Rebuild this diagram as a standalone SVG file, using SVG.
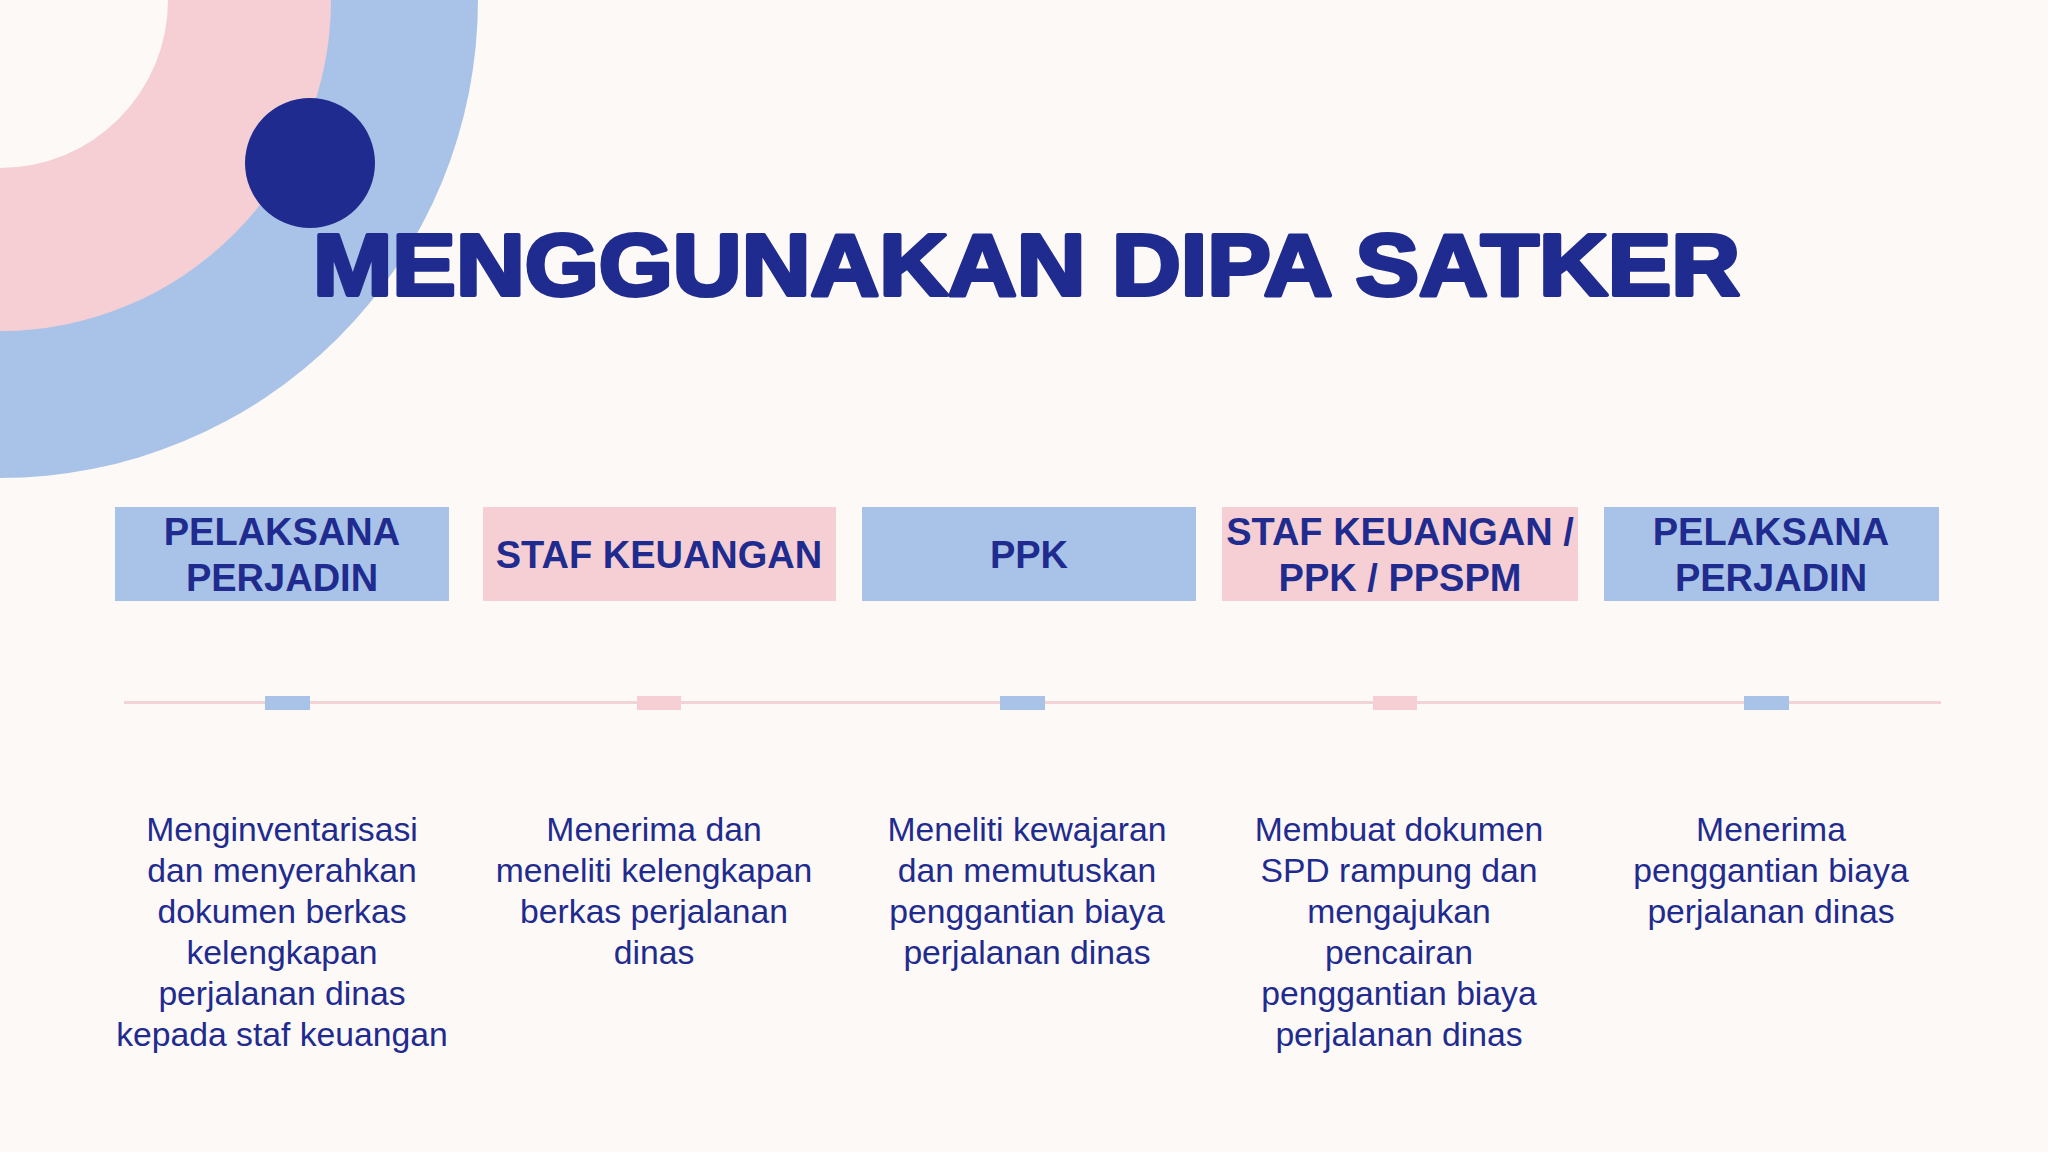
<svg xmlns="http://www.w3.org/2000/svg" width="2048" height="1152" viewBox="0 0 2048 1152">
<style>
.hdr{font-family:"Liberation Sans",Arial,sans-serif;font-weight:bold;font-size:38px;fill:#1F2B8E;text-anchor:middle}
.body{font-family:"Liberation Sans",Arial,sans-serif;font-size:33.7px;fill:#1F2B8E;text-anchor:middle}
.blue{fill:#A9C3E8}
.pink{fill:#F5CFD3}
</style>
<rect width="2048" height="1152" fill="#FDF9F6"/>
<g id="decor">
<circle cx="0" cy="0" r="478" class="blue"/>
<circle cx="0" cy="0" r="331" class="pink"/>
<circle cx="0" cy="0" r="168" fill="#FDF9F6"/>
<circle cx="310" cy="163" r="65" fill="#1F2B8E"/>
</g>
<g id="title">
<text x="313" y="295" textLength="1427" lengthAdjust="spacingAndGlyphs" font-family="Liberation Sans, Arial, sans-serif" font-weight="bold" font-size="88" fill="#1F2B8E" stroke="#1F2B8E" stroke-width="4" stroke-linejoin="round">MENGGUNAKAN DIPA SATKER</text>
</g>
<g id="connectors">
<rect x="124" y="701" width="1817" height="3" fill="#F2D3D6"/>
</g>
<g id="step1">
<rect x="115" y="507" width="334" height="94" class="blue"/>
<text class="hdr" x="282" y="545">PELAKSANA</text>
<text class="hdr" x="282" y="591">PERJADIN</text>
<rect x="265" y="696" width="45" height="14" class="blue"/>
<text class="body" x="282" y="841">Menginventarisasi</text>
<text class="body" x="282" y="882">dan menyerahkan</text>
<text class="body" x="282" y="923">dokumen berkas</text>
<text class="body" x="282" y="964">kelengkapan</text>
<text class="body" x="282" y="1005">perjalanan dinas</text>
<text class="body" x="282" y="1046">kepada staf keuangan</text>
</g>
<g id="step2">
<rect x="483" y="507" width="353" height="94" class="pink"/>
<text class="hdr" x="659" y="568">STAF KEUANGAN</text>
<rect x="637" y="696" width="44" height="14" class="pink"/>
<text class="body" x="654" y="841">Menerima dan</text>
<text class="body" x="654" y="882">meneliti kelengkapan</text>
<text class="body" x="654" y="923">berkas perjalanan</text>
<text class="body" x="654" y="964">dinas</text>
</g>
<g id="step3">
<rect x="862" y="507" width="334" height="94" class="blue"/>
<text class="hdr" x="1029" y="568">PPK</text>
<rect x="1000" y="696" width="45" height="14" class="blue"/>
<text class="body" x="1027" y="841">Meneliti kewajaran</text>
<text class="body" x="1027" y="882">dan memutuskan</text>
<text class="body" x="1027" y="923">penggantian biaya</text>
<text class="body" x="1027" y="964">perjalanan dinas</text>
</g>
<g id="step4">
<rect x="1222" y="507" width="356" height="94" class="pink"/>
<text class="hdr" x="1400" y="545">STAF KEUANGAN /</text>
<text class="hdr" x="1400" y="591">PPK / PPSPM</text>
<rect x="1373" y="696" width="44" height="14" class="pink"/>
<text class="body" x="1399" y="841">Membuat dokumen</text>
<text class="body" x="1399" y="882">SPD rampung dan</text>
<text class="body" x="1399" y="923">mengajukan</text>
<text class="body" x="1399" y="964">pencairan</text>
<text class="body" x="1399" y="1005">penggantian biaya</text>
<text class="body" x="1399" y="1046">perjalanan dinas</text>
</g>
<g id="step5">
<rect x="1604" y="507" width="335" height="94" class="blue"/>
<text class="hdr" x="1771" y="545">PELAKSANA</text>
<text class="hdr" x="1771" y="591">PERJADIN</text>
<rect x="1744" y="696" width="45" height="14" class="blue"/>
<text class="body" x="1771" y="841">Menerima</text>
<text class="body" x="1771" y="882">penggantian biaya</text>
<text class="body" x="1771" y="923">perjalanan dinas</text>
</g>
</svg>
